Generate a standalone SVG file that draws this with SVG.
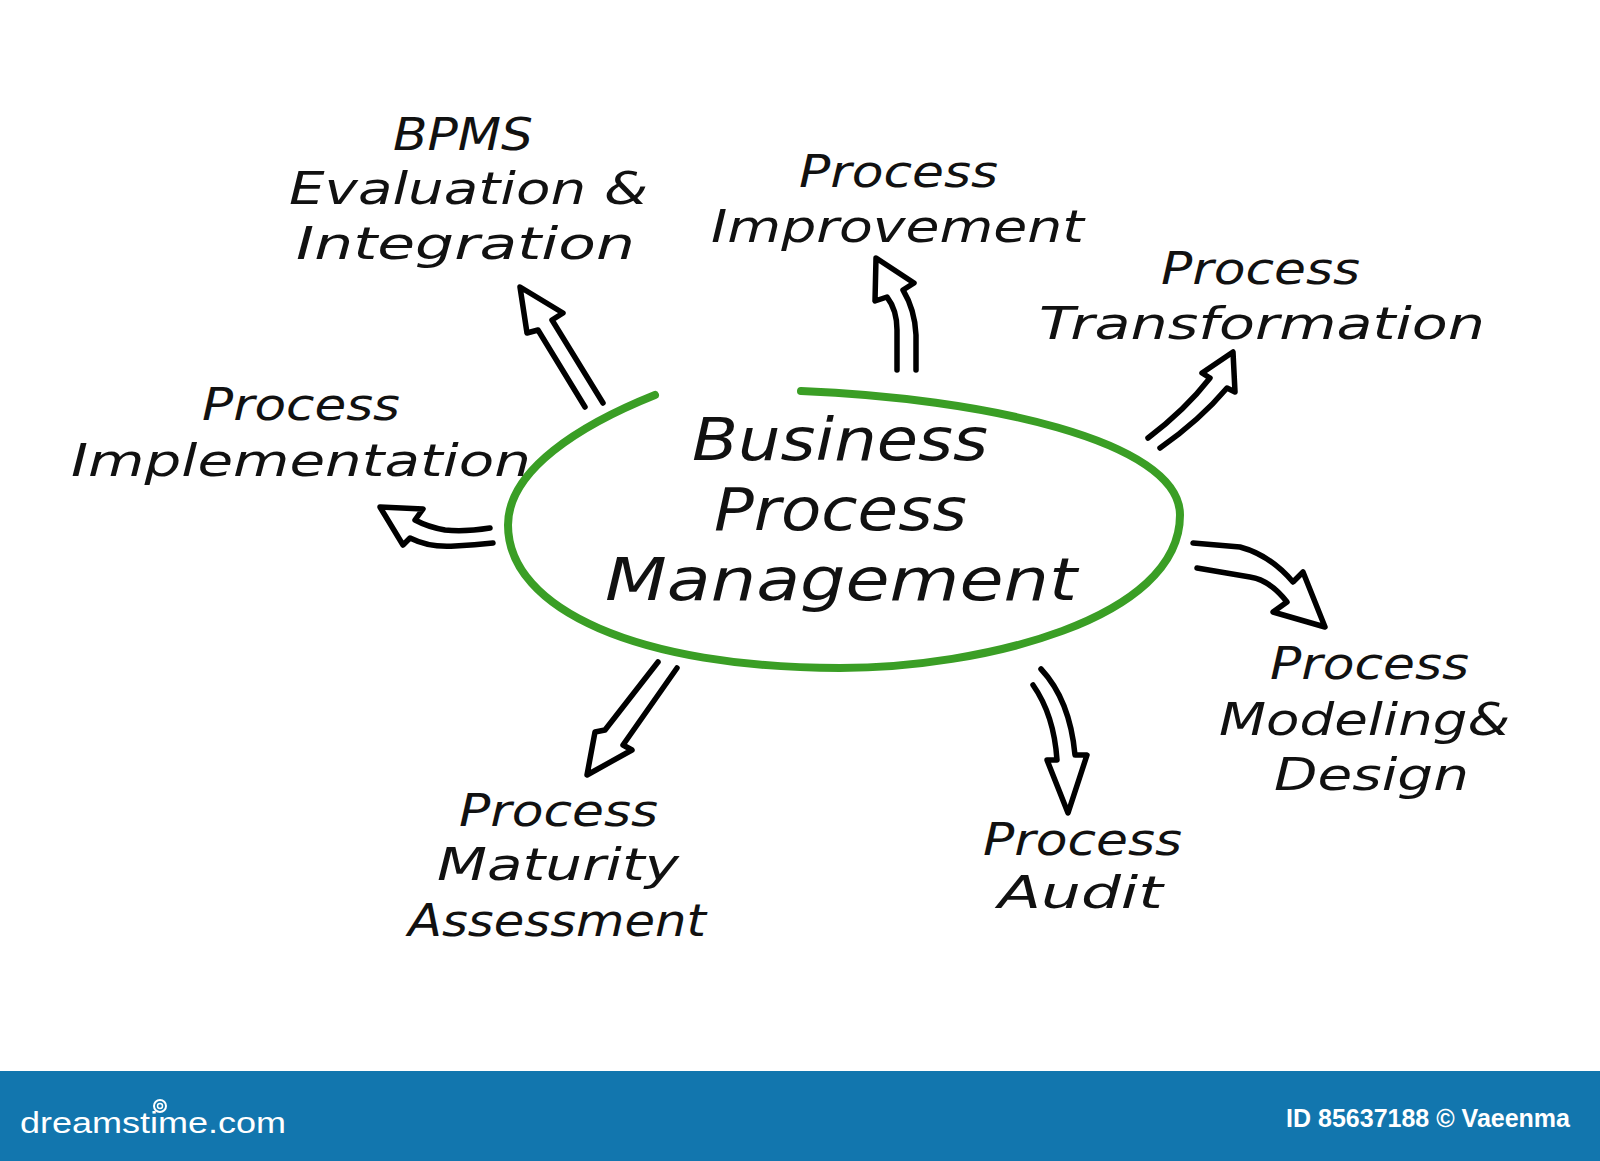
<svg xmlns="http://www.w3.org/2000/svg" width="1600" height="1161" viewBox="0 0 1600 1161">
<style>
.lbl{font-family:"DejaVu Sans","Liberation Sans",sans-serif;font-style:italic;font-size:44px;fill:#111}
.ctr{font-family:"DejaVu Sans","Liberation Sans",sans-serif;font-style:italic;font-size:58px;fill:#111}
.arr{fill:none;stroke:#000;stroke-width:5.5;stroke-linejoin:round;stroke-linecap:round}
.foot{font-family:"Liberation Sans","DejaVu Sans",sans-serif;fill:#fff}
</style>
<rect width="1600" height="1161" fill="#fff"/>

<g id="center">
<path d="M801,391 C980,398 1180,440 1180,515 C1180,620 980,668 840,668 C640,668 508,610 508,525 C508,470 580,425 655,395" fill="none" stroke="#3a9e25" stroke-width="8" stroke-linecap="round"/>
<text class="ctr" x="692" y="460" textLength="296" lengthAdjust="spacingAndGlyphs">Business</text>
<text class="ctr" x="714" y="530" textLength="253" lengthAdjust="spacingAndGlyphs">Process</text>
<text class="ctr" x="605" y="600" textLength="472" lengthAdjust="spacingAndGlyphs">Management</text>
</g>

<g id="bpms">
<text class="lbl" x="393" y="150" textLength="140" lengthAdjust="spacingAndGlyphs">BPMS</text>
<text class="lbl" x="289" y="204" textLength="359" lengthAdjust="spacingAndGlyphs">Evaluation &amp;</text>
<text class="lbl" x="296" y="259" textLength="339" lengthAdjust="spacingAndGlyphs">Integration</text>
</g>

<g id="improvement">
<text class="lbl" x="799" y="187" textLength="199" lengthAdjust="spacingAndGlyphs">Process</text>
<text class="lbl" x="711" y="242" textLength="373" lengthAdjust="spacingAndGlyphs">Improvement</text>
</g>

<g id="transformation">
<text class="lbl" x="1161" y="284" textLength="199" lengthAdjust="spacingAndGlyphs">Process</text>
<text class="lbl" x="1039" y="339" textLength="446" lengthAdjust="spacingAndGlyphs">Transformation</text>
</g>

<g id="implementation">
<text class="lbl" x="202" y="420" textLength="198" lengthAdjust="spacingAndGlyphs">Process</text>
<text class="lbl" x="71" y="476" textLength="460" lengthAdjust="spacingAndGlyphs">Implementation</text>
</g>

<g id="modeling">
<text class="lbl" x="1270" y="679" textLength="199" lengthAdjust="spacingAndGlyphs">Process</text>
<text class="lbl" x="1219" y="735" textLength="291" lengthAdjust="spacingAndGlyphs">Modeling&amp;</text>
<text class="lbl" x="1274" y="790" textLength="195" lengthAdjust="spacingAndGlyphs">Design</text>
</g>

<g id="audit">
<text class="lbl" x="983" y="855" textLength="199" lengthAdjust="spacingAndGlyphs">Process</text>
<text class="lbl" x="998" y="908" textLength="165" lengthAdjust="spacingAndGlyphs">Audit</text>
</g>

<g id="maturity">
<text class="lbl" x="459" y="826" textLength="199" lengthAdjust="spacingAndGlyphs">Process</text>
<text class="lbl" x="437" y="880" textLength="242" lengthAdjust="spacingAndGlyphs">Maturity</text>
<text class="lbl" x="408" y="936" textLength="298" lengthAdjust="spacingAndGlyphs">Assessment</text>
</g>

<g id="connectors">
<path class="arr" d="M585,407 L538,330 L527,333 L520,287 L563,313 L552,320 L603,403"/>
<path class="arr" d="M897,370 L897,330 Q897,310 887,297 L875,301 L876,258 L914,283 L903,290 Q915,310 916,335 L916,370"/>
<path class="arr" d="M1148,438 Q1185,410 1210,378 L1202,373 L1233,352 L1235,392 L1227,388 Q1200,420 1160,448"/>
<path class="arr" d="M1193,543 L1240,547 Q1270,555 1293,582 L1303,572 L1325,627 L1273,612 L1287,602 Q1270,580 1250,577 L1197,568"/>
<path class="arr" d="M490,528 Q465,532 445,530 Q428,527 415,520 L423,509 L380,507 L403,545 L410,538 Q430,548 455,546 Q475,545 493,543"/>
<path class="arr" d="M658,662 L605,730 L595,732 L587,775 L632,750 L623,745 L677,668"/>
<path class="arr" d="M1033,685 Q1054,715 1057,760 L1047,760 L1068,813 L1087,755 L1075,755 Q1070,700 1041,669"/>
</g>

<g id="footer">
<rect x="0" y="1071" width="1600" height="90" fill="#1276ae"/>
<text class="foot" x="20" y="1133" font-size="30" textLength="266" lengthAdjust="spacingAndGlyphs">dreamstime.com</text>
<circle cx="160" cy="1106" r="6" fill="none" stroke="#fff" stroke-width="2"/>
<circle cx="160" cy="1106" r="2.5" fill="none" stroke="#fff" stroke-width="1.5"/>
<text class="foot" x="1570" y="1127" font-size="25" font-weight="bold" text-anchor="end">ID 85637188 © Vaeenma</text>
</g>
</svg>
